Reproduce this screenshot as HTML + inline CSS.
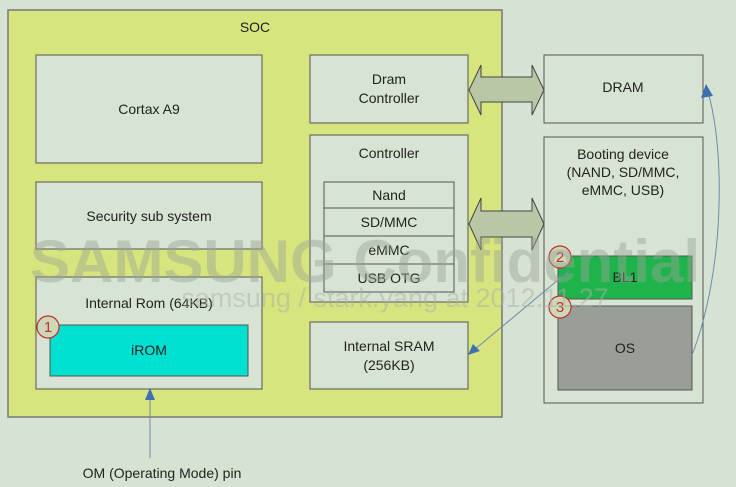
<!DOCTYPE html>
<html><head><style>body{margin:0}svg{display:block}text{font-family:"Liberation Sans",sans-serif;fill:#222}</style></head>
<body>
<svg width="736" height="487" viewBox="0 0 736 487" xmlns="http://www.w3.org/2000/svg">
<rect width="736" height="487" fill="#d7e3d2"/>
<rect x="8" y="10" width="494" height="407" fill="#d8e57f" stroke="#777" stroke-width="1.5"/>
<text x="255" y="32" font-size="14" text-anchor="middle">SOC</text>
<g fill="#d8e4d3" stroke="#555" stroke-width="1">
<rect x="36" y="55" width="226" height="108"/>
<rect x="36" y="182" width="226" height="67"/>
<rect x="36" y="277" width="226" height="112"/>
<rect x="310" y="55" width="158" height="68"/>
<rect x="310" y="135" width="158" height="167"/>
<rect x="310" y="322" width="158" height="67"/>
<rect x="544" y="55" width="159" height="68"/>
<rect x="544" y="137" width="159" height="266"/>
<rect x="324" y="182" width="130" height="26"/>
<rect x="324" y="208" width="130" height="28"/>
<rect x="324" y="236" width="130" height="28"/>
<rect x="324" y="264" width="130" height="28"/>
</g>
<rect x="50" y="325" width="198" height="51" fill="#00e0d0" stroke="#555"/>
<rect x="558" y="256" width="134" height="43" fill="#1fb34c" stroke="#555"/>
<rect x="558" y="306" width="134" height="84" fill="#999f96" stroke="#555"/>
<g fill="#b9c7a6" stroke="#444" stroke-width="1">
<polygon points="469,90 481,65 481,77 532,77 532,65 544,90 532,115 532,102 481,102 481,115"/>
<polygon points="469,224 481,198 481,211 532,211 532,198 544,224 532,250 532,237 481,237 481,250"/>
</g>
<g font-size="14" text-anchor="middle">
<text x="149" y="114">Cortax A9</text>
<text x="149" y="221">Security sub system</text>
<text x="149" y="308">Internal Rom (64KB)</text>
<text x="149" y="355">iROM</text>
<text x="389" y="84">Dram</text>
<text x="389" y="103">Controller</text>
<text x="389" y="158">Controller</text>
<text x="389" y="200">Nand</text>
<text x="389" y="227">SD/MMC</text>
<text x="389" y="255">eMMC</text>
<text x="389" y="283">USB OTG</text>
<text x="389" y="351">Internal SRAM</text>
<text x="389" y="370">(256KB)</text>
<text x="623" y="92">DRAM</text>
<text x="623" y="159">Booting device</text>
<text x="623" y="177">(NAND, SD/MMC,</text>
<text x="623" y="195">eMMC, USB)</text>
<text x="625" y="282">BL1</text>
<text x="625" y="353">OS</text>
<text x="162" y="478">OM (Operating Mode) pin</text>
</g>
<g fill="none" stroke="#6b8bb0" stroke-width="1">
<line x1="150" y1="458" x2="150" y2="396"/>
<line x1="570" y1="270" x2="474" y2="350"/>
<path d="M692,355 C725,270 725,150 708,92"/>
</g>
<g fill="#3f6fb0">
<polygon points="150,388 145,400 155,400"/>
<polygon points="468,355 473,344 480,351"/>
<polygon points="706,84 701,98 713,96"/>
</g>
<g fill="#ccd8b8" stroke="#c03030" stroke-width="1.2">
<circle cx="48" cy="327" r="11"/><circle cx="560" cy="257" r="11"/><circle cx="560" cy="307" r="11"/>
</g>
<g font-size="15" text-anchor="middle">
<text x="48" y="332" style="fill:#c03030">1</text><text x="560" y="262" style="fill:#c03030">2</text><text x="560" y="312" style="fill:#c03030">3</text>
</g>
<text x="365" y="282" font-size="60" font-weight="bold" text-anchor="middle" style="fill:#9aa595;opacity:0.45">SAMSUNG Confidential</text>
<text x="395" y="307" font-size="27" text-anchor="middle" style="fill:#aab3a6;opacity:0.5">samsung / stark.yang at 2012.11.27</text>
</svg>
</body></html>
